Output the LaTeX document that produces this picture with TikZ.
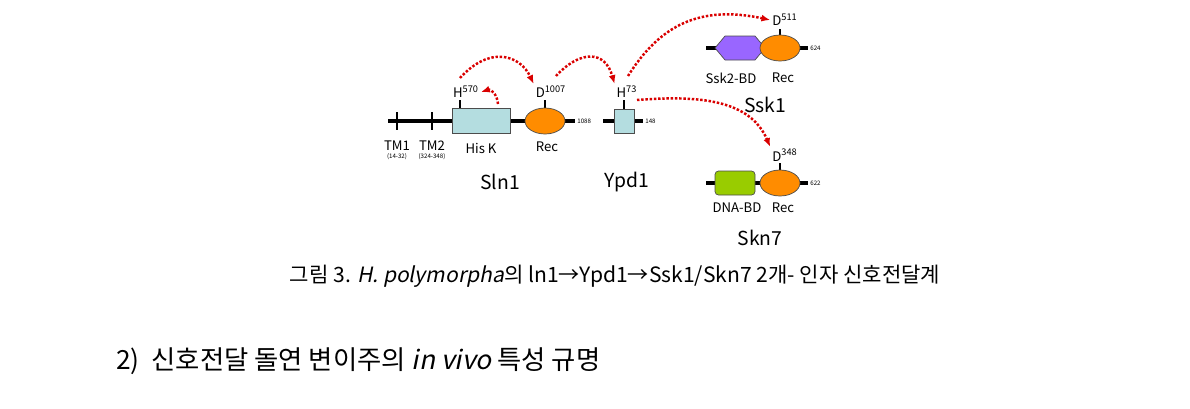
\documentclass[tikz,border=0pt]{standalone}
\usepackage{fontspec}
\setmainfont{Noto Sans CJK KR}[AutoFakeSlant=0.2]
\usetikzlibrary{shapes.geometric,arrows.meta}
\newlength{\pxu}\setlength{\pxu}{0.02cm}
\definecolor{hisblau}{HTML}{B4DDE0}
\definecolor{dnagruen}{HTML}{99CC00}
\definecolor{sskviolett}{HTML}{9966FF}
\tikzset{
  achse/.style={line width=2.2pt},
  strich/.style={line width=1.6pt},
  rec/.style={ellipse,draw=black!70,fill=orange!90!yellow,minimum width=40\pxu,minimum height=26\pxu,inner sep=0pt},
  pfeil/.style={red!85!black,densely dotted,line width=1.4pt,-{Latex[length=5pt,width=4pt]}},
  lab/.style={font=\fontsize{7.5}{9}\selectfont,inner sep=1pt},
  mini/.style={font=\fontsize{3.5}{4}\selectfont,inner sep=0pt},
  protname/.style={font=\fontsize{11}{13}\selectfont,inner sep=1pt}
}
\begin{document}
\begin{tikzpicture}[x=0.02cm,y=-0.02cm]
	\useasboundingbox (0,0) rectangle (1190,409);
	
	% Sln1
	\draw[achse] (388,121) -- (575,121);
	\foreach \x in {397,432} {
		\draw[strich] (\x,112) -- (\x,130);
	}
	\draw[strich] (460,100) -- (460,108);
	\draw[strich] (545,100) -- (545,108);
	\node[draw=black!70,fill=hisblau,minimum width=58\pxu,minimum height=25\pxu,inner sep=0pt] (hisk) at (481,121) {};
	\node[rec] (rec1) at (545,121) {};
	\node[mini,anchor=west] (e1) at (577,121) {1088};
	\node[lab] (h570) at (466,92) {H$^{\mathrm{570}}$};
	\node[lab] (d1007) at (551,92) {D$^{\mathrm{1007}}$};
	\node[lab] (tm1) at (397,146) {TM1};
	\node[mini] (tm1r) at (397,157) {(14-32)};
	\node[lab] (tm2) at (432,146) {TM2};
	\node[mini] (tm2r) at (432,157) {(324-348)};
	\node[lab] (hisklab) at (481,148) {His K};
	\node[lab] (rec1lab) at (547,147) {Rec};
	\node[protname] (sln1) at (500,182) {Sln1};
	
	% Ypd1
	\draw[achse] (603,121) -- (643,121);
	\draw[strich] (624,100) -- (624,109);
	\node[draw=black!70,fill=hisblau,minimum width=20\pxu,minimum height=24\pxu,inner sep=0pt] (ypdbox) at (624,121) {};
	\node[mini,anchor=west] (e2) at (645,121) {148};
	\node[lab] (h73) at (627,92) {H$^{\mathrm{73}}$};
	\node[protname] (ypd1) at (627,182) {Ypd1};
	
	% Ssk1
	\draw[achse] (706,48) -- (808,48);
	\draw[strich] (780,29) -- (780,37);
	\draw[draw=black!70,fill=sskviolett] (715,48) -- (725,36) -- (755,36) -- (765,48) -- (755,60) -- (725,60) -- cycle;
	\node[rec] (rec2) at (780,48) {};
	\node[mini,anchor=west] (e3) at (810,48) {624};
	\node[lab] (d511) at (785,20) {D$^{\mathrm{511}}$};
	\node[lab] (ssk2bd) at (731,78) {Ssk2-BD};
	\node[lab] (rec2lab) at (783,78) {Rec};
	\node[protname] (ssk1) at (765,105) {Ssk1};
	
	% Skn7
	\draw[achse] (706,183) -- (808,183);
	\draw[strich] (780,163) -- (780,171);
	\node[draw=black!70,fill=dnagruen,rounded corners=2pt,minimum width=40\pxu,minimum height=24\pxu,inner sep=0pt] (dnabd) at (735,183) {};
	\node[rec] (rec3) at (780,183) {};
	\node[mini,anchor=west] (e4) at (810,183) {622};
	\node[lab] (d348) at (785,155) {D$^{\mathrm{348}}$};
	\node[lab] (dnalab) at (737,208) {DNA-BD};
	\node[lab] (rec3lab) at (783,208) {Rec};
	\node[protname] (skn7) at (760,238) {Skn7};
	
	% Phosphatuebertragung
	\coordinate (p1) at (460,78);
	\coordinate (p2) at (498,104);
	\coordinate (p3) at (556,76);
	\coordinate (p4) at (628,76);
	\coordinate (p5) at (637,100);
	\draw[pfeil] (p1) .. controls (490,45) and (520,55) .. (d1007.north west);
	\draw[pfeil] (p2) .. controls (497,93) and (490,89) .. (h570.east);
	\draw[pfeil] (p3) .. controls (580,50) and (605,50) .. (h73.north west);
	\draw[pfeil] (p4) .. controls (660,25) and (700,5) .. (d511.west);
	\draw[pfeil] (p5) .. controls (700,95) and (750,100) .. (d348.north west);
	
	% Text
	\node[font=\fontsize{12}{14}\selectfont,inner sep=0pt] (cap) at (615,276) {그림 3. \textit{H. polymorpha}의 ln1→Ypd1→Ssk1/Skn7 2개- 인자 신호전달계};
	\node[font=\fontsize{15}{18}\selectfont,anchor=west,inner sep=0pt] (head) at (116,361) {2)\ \ 신호전달 돌연 변이주의 \textit{in vivo} 특성 규명};
\end{tikzpicture}
\end{document}
